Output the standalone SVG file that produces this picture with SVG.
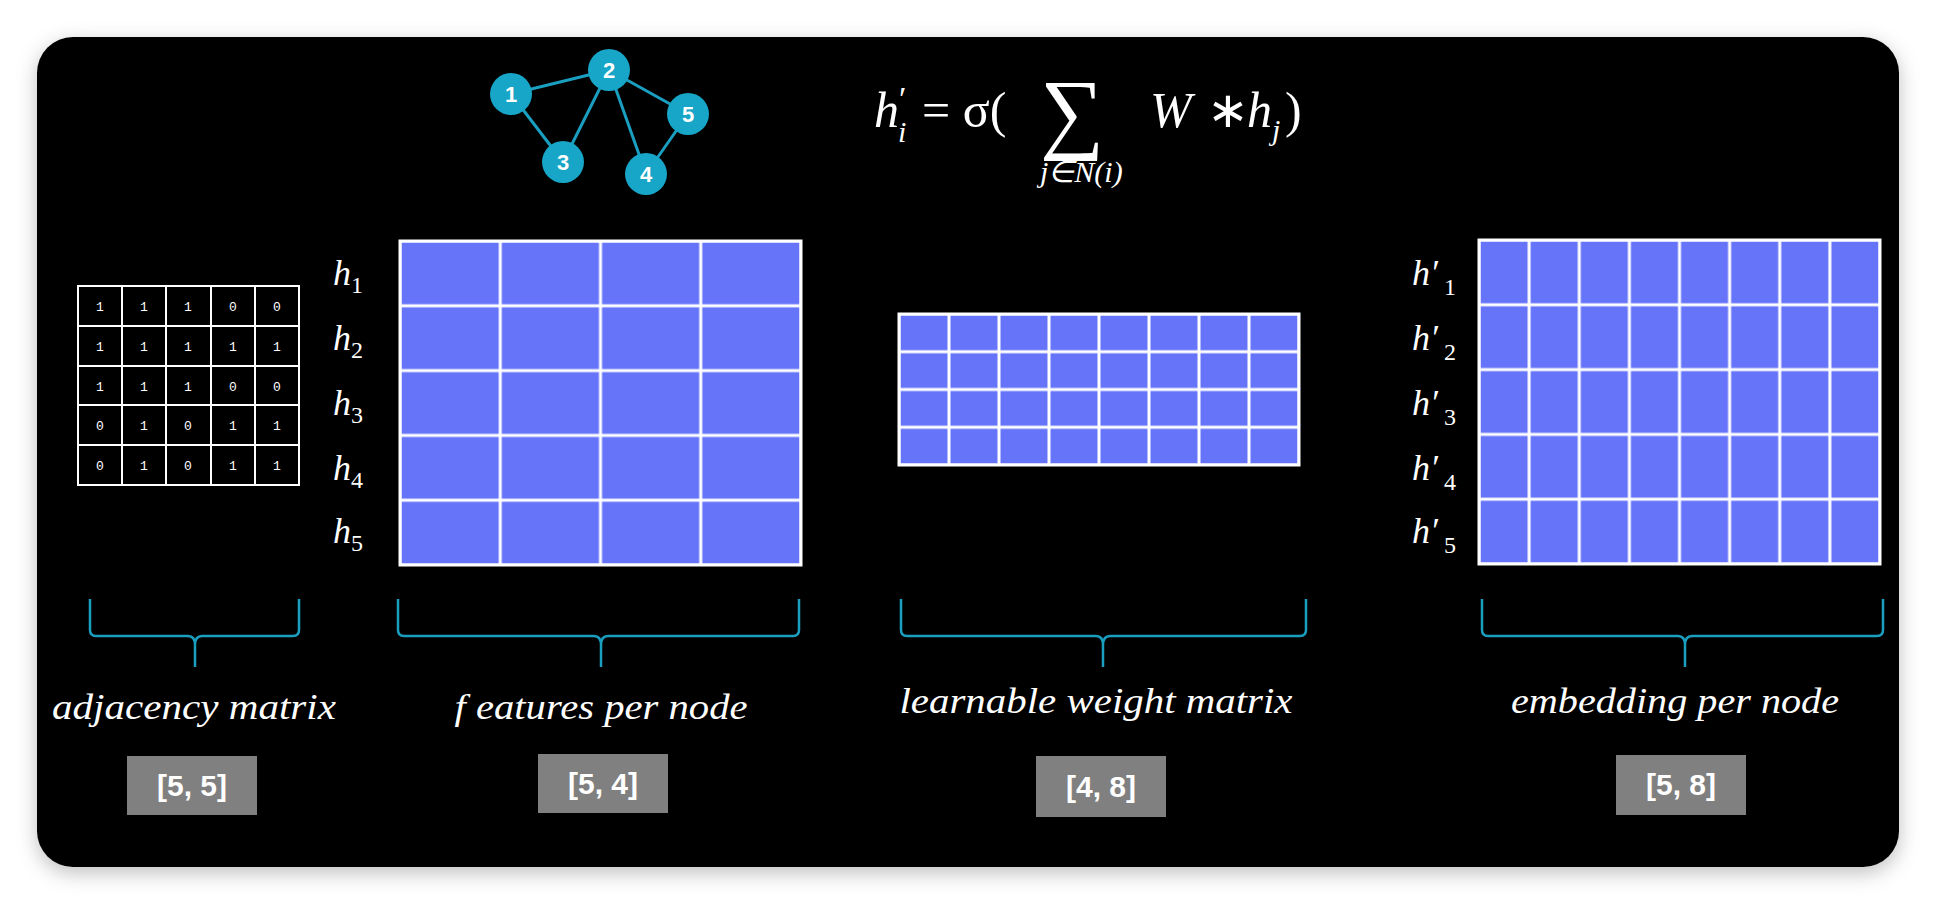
<svg xmlns="http://www.w3.org/2000/svg" width="1936" height="904" viewBox="0 0 1936 904">
<defs>
<filter id="sh" x="-5%" y="-5%" width="110%" height="115%"><feDropShadow dx="0" dy="6" stdDeviation="10" flood-color="#000" flood-opacity="0.25"/></filter>
<pattern id="g4" x="400" y="241" width="100.25" height="64.8" patternUnits="userSpaceOnUse"><rect width="100.25" height="64.8" fill="#6674fa" stroke="#fff" stroke-width="3"/></pattern>
<pattern id="g8w" x="899" y="314" width="50" height="37.75" patternUnits="userSpaceOnUse"><rect width="50" height="37.75" fill="#6674fa" stroke="#fff" stroke-width="3"/></pattern>
<pattern id="g8e" x="1479" y="240" width="50.125" height="64.8" patternUnits="userSpaceOnUse"><rect width="50.125" height="64.8" fill="#6674fa" stroke="#fff" stroke-width="3"/></pattern>
</defs>
<style>
.edge{stroke:#1a9fc0;stroke-width:3}
.node circle{fill:#17a5c8}
.node text{fill:#fff;font:bold 22px "Liberation Sans",sans-serif;text-anchor:middle}
.brace{fill:none;stroke:#1a9fc0;stroke-width:2.5}
.lbl{fill:#fff;font:italic 36px "Liberation Serif",serif;text-anchor:middle}
.math{fill:#fff;font-family:"Liberation Serif",serif;font-style:italic}
.sub{font-style:normal}
.adj text{fill:#fff;font:13px "Liberation Mono",monospace;text-anchor:middle}
.box rect{fill:#808080}
.box text{fill:#fff;font:bold 30px "Liberation Sans",sans-serif;text-anchor:middle}
.mat{stroke:#fff;stroke-width:3}
</style>
<rect width="1936" height="904" fill="#fff"/>
<rect x="37" y="37" width="1862" height="830" rx="36" fill="#000" filter="url(#sh)"/>
<g id="connectors">
<line class="edge" x1="511" y1="94" x2="609" y2="70"/>
<line class="edge" x1="511" y1="94" x2="563" y2="162"/>
<line class="edge" x1="563" y1="162" x2="609" y2="70"/>
<line class="edge" x1="609" y1="70" x2="646" y2="174"/>
<line class="edge" x1="609" y1="70" x2="688" y2="114"/>
<line class="edge" x1="688" y1="114" x2="646" y2="174"/>
</g>
<g id="n1" class="node"><circle cx="511" cy="94" r="21"/><text x="511" y="102">1</text></g>
<g id="n2" class="node"><circle cx="609" cy="70" r="21"/><text x="609" y="78">2</text></g>
<g id="n3" class="node"><circle cx="563" cy="162" r="21"/><text x="563" y="170">3</text></g>
<g id="n4" class="node"><circle cx="646" cy="174" r="21"/><text x="646" y="182">4</text></g>
<g id="n5" class="node"><circle cx="688" cy="114" r="21"/><text x="688" y="122">5</text></g>
<g id="formula" class="math">
<text x="874" y="127" font-size="50">h<tspan font-size="34" font-style="normal" dy="-17">′</tspan><tspan font-size="30" x="898" dy="32">i</tspan></text>
<text x="922" y="127" font-size="50" font-style="normal">= σ(</text>
<text x="1040" y="142" font-size="90" font-style="normal">∑</text>
<text x="1040" y="182" font-size="30">j∈N(i)</text>
<text x="1150" y="127" font-size="50">W</text>
<text x="1207" y="127" font-size="50" font-style="normal">∗</text>
<text x="1247" y="127" font-size="50">h<tspan font-size="30" dy="13">j</tspan></text>
<text x="1285" y="127" font-size="50" font-style="normal">)</text>
</g>
<g id="adjacency" class="adj">
<rect x="78" y="286" width="221" height="199" fill="none" stroke="#fff" stroke-width="2"/>
<path d="M122 286V485M166 286V485M211 286V485M255 286V485M78 326H299M78 366H299M78 405H299M78 445H299" stroke="#fff" stroke-width="2"/>
<text x="100" y="311">1</text><text x="144" y="311">1</text><text x="188" y="311">1</text><text x="233" y="311">0</text><text x="277" y="311">0</text>
<text x="100" y="351">1</text><text x="144" y="351">1</text><text x="188" y="351">1</text><text x="233" y="351">1</text><text x="277" y="351">1</text>
<text x="100" y="391">1</text><text x="144" y="391">1</text><text x="188" y="391">1</text><text x="233" y="391">0</text><text x="277" y="391">0</text>
<text x="100" y="430">0</text><text x="144" y="430">1</text><text x="188" y="430">0</text><text x="233" y="430">1</text><text x="277" y="430">1</text>
<text x="100" y="470">0</text><text x="144" y="470">1</text><text x="188" y="470">0</text><text x="233" y="470">1</text><text x="277" y="470">1</text>
</g>
<g id="features">
<rect class="mat" x="400" y="241" width="401" height="324" fill="url(#g4)"/>
<g class="math" font-size="36">
<text x="333" y="285">h<tspan class="sub" font-size="24" dy="8">1</tspan></text>
<text x="333" y="350">h<tspan class="sub" font-size="24" dy="8">2</tspan></text>
<text x="333" y="415">h<tspan class="sub" font-size="24" dy="8">3</tspan></text>
<text x="333" y="480">h<tspan class="sub" font-size="24" dy="8">4</tspan></text>
<text x="333" y="543">h<tspan class="sub" font-size="24" dy="8">5</tspan></text>
</g>
</g>
<g id="weights">
<rect class="mat" x="899" y="314" width="400" height="151" fill="url(#g8w)"/>
</g>
<g id="embedding">
<rect class="mat" x="1479" y="240" width="401" height="324" fill="url(#g8e)"/>
<g class="math" font-size="36">
<text x="1412" y="285">h′<tspan class="sub" font-size="24" dy="10"> 1</tspan></text>
<text x="1412" y="350">h′<tspan class="sub" font-size="24" dy="10"> 2</tspan></text>
<text x="1412" y="415">h′<tspan class="sub" font-size="24" dy="10"> 3</tspan></text>
<text x="1412" y="480">h′<tspan class="sub" font-size="24" dy="10"> 4</tspan></text>
<text x="1412" y="543">h′<tspan class="sub" font-size="24" dy="10"> 5</tspan></text>
</g>
</g>
<g id="braces">
<path class="brace" d="M90 599V630Q90 636 96 636H188Q195 636 195 645V667M195 645Q195 636 202 636H293Q299 636 299 630V599"/>
<path class="brace" d="M398 599V630Q398 636 404 636H594Q601 636 601 645V667M601 645Q601 636 608 636H793Q799 636 799 630V599"/>
<path class="brace" d="M901 599V630Q901 636 907 636H1096Q1103 636 1103 645V667M1103 645Q1103 636 1110 636H1300Q1306 636 1306 630V599"/>
<path class="brace" d="M1482 599V630Q1482 636 1488 636H1678Q1685 636 1685 645V667M1685 645Q1685 636 1692 636H1877Q1883 636 1883 630V599"/>
</g>
<g id="labels">
<text class="lbl" x="194" y="719" textLength="284" lengthAdjust="spacingAndGlyphs">adjacency matrix</text>
<text class="lbl" x="601" y="719" textLength="293" lengthAdjust="spacingAndGlyphs">f eatures per node</text>
<text class="lbl" x="1096" y="713" textLength="393" lengthAdjust="spacingAndGlyphs">learnable weight matrix</text>
<text class="lbl" x="1675" y="713" textLength="328" lengthAdjust="spacingAndGlyphs">embedding per node</text>
</g>
<g id="b1" class="box"><rect x="127" y="756" width="130" height="59"/><text x="192" y="796">[5, 5]</text></g>
<g id="b2" class="box"><rect x="538" y="754" width="130" height="59"/><text x="603" y="794">[5, 4]</text></g>
<g id="b3" class="box"><rect x="1036" y="756" width="130" height="61"/><text x="1101" y="797">[4, 8]</text></g>
<g id="b4" class="box"><rect x="1616" y="755" width="130" height="60"/><text x="1681" y="795">[5, 8]</text></g>
</svg>
